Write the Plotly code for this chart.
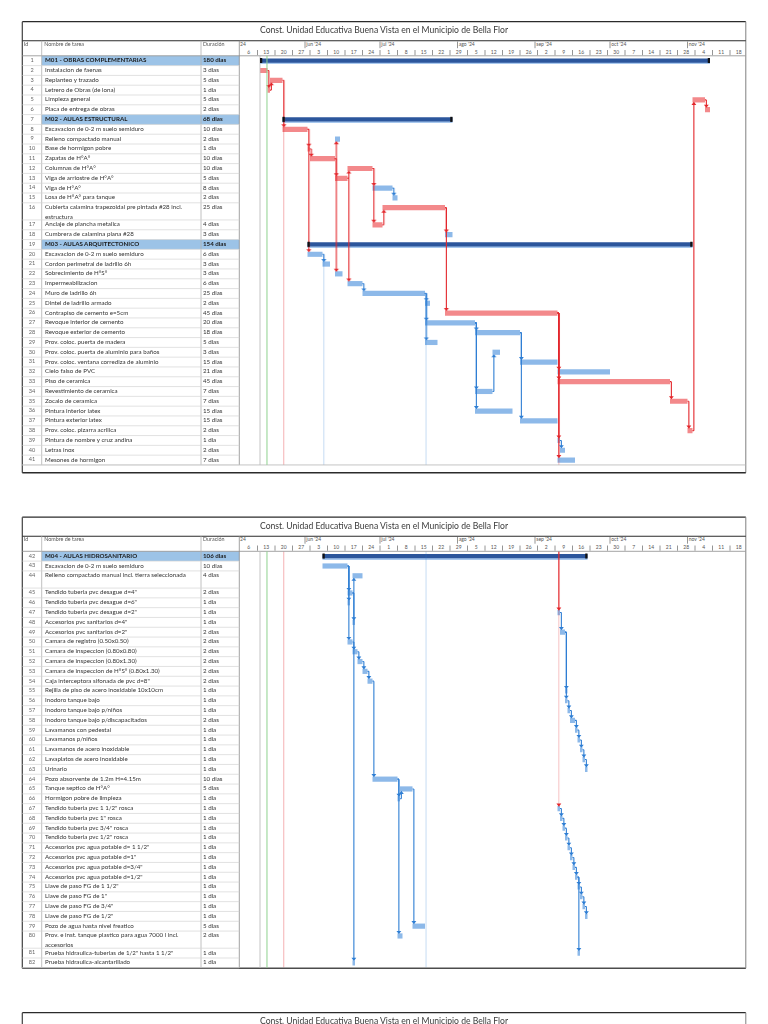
import plotly.graph_objects as go
from datetime import datetime, timedelta

# ---------------- DATA ----------------
TITULO = "Const. Unidad Educativa Buena Vista en el Municipio de Bella Flor"
ENCABEZADOS = ["Id", "Nombre de tarea", "Duración"]

ids = list(range(1, 83))

nombres = [
    "M01 - OBRAS COMPLEMENTARIAS", "Instalacion de faenas", "Replanteo y trazado",
    "Letrero de Obras (de lona)", "Limpieza general", "Placa de entrega de obras",
    "M02 - AULAS ESTRUCTURAL", "Excavacion de 0-2 m suelo semiduro", "Relleno compactado manual",
    "Base de hormigon pobre", "Zapatas de H°A°", "Columnas de H°A°", "Viga de arriostre de H°A°",
    "Viga de H°A°", "Losa de H°A° para tanque",
    "Cubierta calamina trapezoidal pre pintada #28 incl.<br>estructura",
    "Anclaje de plancha metalica", "Cumbrera de calamina plana #28",
    "M03 - AULAS ARQUITECTONICO", "Excavacion de 0-2 m suelo semiduro",
    "Cordon perimetral de ladrillo 6h", "Sobrecimiento de H°S°", "Impermeabilizacion",
    "Muro de ladrillo 6h", "Dintel de ladrillo armado", "Contrapiso de cemento e=5cm",
    "Revoque interior de cemento", "Revoque exterior de cemento", "Prov. coloc. puerta de madera",
    "Prov. coloc. puerta de aluminio para baños", "Prov. coloc. ventana corrediza de aluminio",
    "Cielo falso de PVC", "Piso de ceramica", "Revestimiento de ceramica", "Zocalo de ceramica",
    "Pintura interior latex", "Pintura exterior latex", "Prov. coloc. pizarra acrilica",
    "Pintura de nombre y cruz andina", "Letras inox", "Mesones de hormigon",
    "M04 - AULAS HIDROSANITARIO", "Excavacion de 0-2 m suelo semiduro",
    "Relleno compactado manual incl. tierra seleccionada",
    "Tendido tuberia pvc desague d=4\"", "Tendido tuberia pvc desague d=6\"",
    "Tendido tuberia pvc desague d=2\"", "Accesorios pvc sanitarios d=4\"",
    "Accesorios pvc sanitarios d=2\"", "Camara de registro (0.50x0.50)",
    "Camara de inspeccion (0.80x0.80)", "Camara de inspeccion (0.80x1.30)",
    "Camara de inspeccion de H°S° (0.80x1.30)", "Caja interceptora sifonada de pvc d=8\"",
    "Rejilla de piso de acero inoxidable 10x10cm", "Inodoro tanque bajo",
    "Inodoro tanque bajo p/niños", "Inodoro tanque bajo p/discapacitados",
    "Lavamanos con pedestal", "Lavamanos p/niños", "Lavamanos de acero inoxidable",
    "Lavaplatos de acero inoxidable", "Urinario", "Pozo absorvente de 1.2m H=4.15m",
    "Tanque septico de H°A°", "Hormigon pobre de limpieza", "Tendido tuberia pvc 1 1/2\" rosca",
    "Tendido tuberia pvc 1\" rosca", "Tendido tuberia pvc 3/4\" rosca",
    "Tendido tuberia pvc 1/2\" rosca", "Accesorios pvc agua potable d= 1 1/2\"",
    "Accesorios pvc agua potable d=1\"", "Accesorios pvc agua potable d=3/4\"",
    "Accesorios pvc agua potable d=1/2\"", "Llave de paso FG de 1 1/2\"",
    "Llave de paso FG de 1\"", "Llave de paso FG de 3/4\"", "Llave de paso FG de 1/2\"",
    "Pozo de agua hasta nivel freatico",
    "Prov. e inst. tanque plastico para agua 7000 l incl.<br>accesorios",
    "Prueba hidraulica-tuberias de 1/2\" hasta 1 1/2\"", "Prueba hidraulica-alcantarillado",
]

duracion_dias = [
    180, 3, 5, 1, 5, 2, 68, 10, 2, 1, 10, 10, 5, 8, 2, 25, 4, 3, 154, 6, 3, 3, 6, 25, 2,
    45, 20, 18, 5, 3, 15, 21, 45, 7, 7, 15, 15, 2, 1, 2, 7,
    106, 10, 4, 2, 1, 1, 1, 2, 2, 2, 2, 2, 2, 1, 1, 1, 2, 1, 1, 1, 1, 1, 10, 5, 1,
    1, 1, 1, 1, 1, 1, 1, 1, 1, 1, 1, 1, 5, 2, 1, 1,
]

inicio = [
    "2024-05-14", "2024-05-14", "2024-05-18", "2024-05-17", "2024-11-03", "2024-11-08",
    "2024-05-23", "2024-05-23", "2024-06-13", "2024-06-02", "2024-06-03", "2024-06-18",
    "2024-06-13", "2024-06-28", "2024-07-06", "2024-07-02", "2024-06-28", "2024-07-27",
    "2024-06-02", "2024-06-02", "2024-06-08", "2024-06-13", "2024-06-18", "2024-06-24",
    "2024-07-19", "2024-07-27", "2024-07-19", "2024-08-08", "2024-07-19", "2024-08-15",
    "2024-08-26", "2024-09-10", "2024-09-10", "2024-08-08", "2024-10-25", "2024-08-08",
    "2024-08-26", "2024-11-01", "2024-09-10", "2024-09-11", "2024-09-10",
    "2024-06-08", "2024-06-08", "2024-06-20", "2024-06-18", "2024-06-18", "2024-09-10",
    "2024-06-20", "2024-09-11", "2024-06-18", "2024-06-20", "2024-06-22", "2024-06-24",
    "2024-06-26", "2024-09-13", "2024-09-13", "2024-09-14", "2024-09-15", "2024-09-17",
    "2024-09-18", "2024-09-19", "2024-09-20", "2024-09-21", "2024-06-28", "2024-07-09",
    "2024-07-08", "2024-09-10", "2024-09-11", "2024-09-12", "2024-09-13", "2024-09-14",
    "2024-09-15", "2024-09-16", "2024-09-17", "2024-09-18", "2024-09-19", "2024-09-20",
    "2024-09-21", "2024-07-14", "2024-07-08", "2024-09-18", "2024-06-20",
]

criticas = [2, 3, 4, 5, 6, 8, 10, 11, 12, 13, 16, 17, 26, 33, 35, 38]
resumen_ids = [1, 7, 19, 42]
filas_dobles = [16, 44, 80]
paginas_ids = [list(range(1, 42)), list(range(42, 83))]

vinculos = [
    (2, 4), (4, 3), (3, 8), (8, 10), (8, 20), (10, 11), (11, 9), (11, 13), (11, 22),
    (13, 12), (13, 23), (12, 14), (12, 17), (17, 16), (14, 15), (16, 18), (16, 26),
    (20, 21), (23, 24), (24, 25), (24, 27), (24, 29), (27, 28), (27, 34), (27, 36),
    (34, 30), (28, 31), (28, 37), (26, 32), (26, 33), (26, 39), (26, 41), (39, 40),
    (33, 35), (35, 38), (38, 5), (5, 6),
    (43, 45), (43, 46), (43, 50), (45, 44), (45, 48), (45, 82), (50, 51), (51, 52),
    (52, 53), (53, 54), (54, 64), (64, 66), (64, 80), (66, 65), (65, 79),
    (26, 47), (26, 67), (47, 49), (49, 55), (49, 56), (56, 57), (57, 58), (58, 59),
    (59, 60), (60, 61), (61, 62), (62, 63), (67, 68), (68, 69), (69, 70), (70, 71),
    (71, 72), (72, 73), (73, 74), (74, 75), (75, 76), (76, 77), (77, 78), (74, 81),
]
# links that run on to tasks printed on later pages: (predecessor, pages crossed)
vinculos_fuera = [(3, 2), (20, 1), (24, 2)]

meses_texto = ["24", "jun '24", "jul '24", "ago '24", "sep '24", "oct '24", "nov '24"]
meses_fecha = [None, "2024-06-01", "2024-07-01", "2024-08-01", "2024-09-01", "2024-10-01", "2024-11-01"]
semanas_texto = ["6", "13", "20", "27", "3", "10", "17", "24", "1", "8", "15", "22", "29", "5",
                 "12", "19", "26", "2", "9", "16", "23", "30", "7", "14", "21", "28", "4", "11", "18"]
semana_inicio = "2024-05-06"
linea_inicio = "2024-05-14"
linea_estado = "2024-05-16 19:00"

# ---------------- LAYOUT CONSTANTS (screen pixels) ----------------
SW, SH = 768, 1024          # browser window
OX, OY = 8, 8               # default page body margin
FW, FH = SW - OX, SH - OY   # figure size
PITCH = 9.8
PAGE_T0 = 21.7
PAGE_H = 495.5
FRAME_H = 451.0
T_LINE, HDR_BOT = 19.0, 34.1
XL, XC1, XC2, XG, XR = 22.3, 41.7, 201.0, 239.3, 745.8
PX_REF, PX_DIA = 380.0, 2.5
D_REF = datetime(2024, 7, 1)

FONT = "Lato, 'Open Sans', sans-serif"
C_CRIT, C_NORM, C_SUM = "#F3898B", "#8DB9E9", "#2C569C"
C_LRED, C_LBLUE = "#E3262B", "#2E7ED4"


def date_at(px):
    return D_REF + timedelta(days=(px - PX_REF) / PX_DIA)


def d(s):
    return datetime.fromisoformat(s)


idx = {i: k for k, i in enumerate(ids)}


def t_ini(i):
    return d(inicio[idx[i]])


def t_fin(i):
    return t_ini(i) + timedelta(days=duracion_dias[idx[i]])


# row geometry
fila_top, fila_h, fila_y, pagina = {}, {}, {}, {}
pag_rows = []
for p, grupo in enumerate(paginas_ids):
    y = PAGE_T0 + p * PAGE_H + HDR_BOT
    y0 = y
    for i in grupo:
        h = PITCH * (1.75 if i in filas_dobles else 1.0)
        fila_top[i], fila_h[i], fila_y[i], pagina[i] = y, h, y + PITCH / 2, p
        y += h
    pag_rows.append((y0, y))

fig = go.Figure()
shapes = []


def line(x0, y0, x1, y1, color, width=1.0, xref="x2", opacity=1.0):
    shapes.append(dict(type="line", xref=xref, yref="y", x0=x0, y0=y0, x1=x1, y1=y1,
                       line=dict(color=color, width=width), opacity=opacity, layer="above"))


def rect(x0, y0, x1, y1, fill, xref="x2", lw=0, lc=None, layer="below"):
    shapes.append(dict(type="rect", xref=xref, yref="y", x0=x0, y0=y0, x1=x1, y1=y1,
                       fillcolor=fill, line=dict(width=lw, color=lc or fill), layer=layer))


txt_x, txt_y, txt_t, txt_c, txt_s, txt_p = [], [], [], [], [], []


def text(x, y, t, size=6.2, color="#333333", pos="middle right"):
    txt_x.append(x); txt_y.append(y); txt_t.append(t); txt_c.append(color)
    txt_s.append(size); txt_p.append(pos)


gx0, gx1 = date_at(XG), date_at(XR)

# ---------------- PAGES (frames, headers) ----------------
for p in range(3):
    T = PAGE_T0 + p * PAGE_H
    B = T + FRAME_H
    line(XL, T, XR, T, "#2B2B2B", 1.3)
    line(XL, T, XL, min(B, SH + 5), "#404040", 1.2)
    line(XR, T, XR, min(B, SH + 5), "#808080", 1.0)
    if B < SH:
        line(XL, B, XR, B, "#2B2B2B", 1.6)
    line(XL, T + T_LINE, XR, T + T_LINE, "#2B2B2B", 1.1)
    text((XL + XR) / 2, T + 9.6, TITULO, 8.6, "#3A3A3A", "middle center")
    if p >= len(paginas_ids):
        continue
    r0, r1 = pag_rows[p]
    line(XL, T + HDR_BOT, XR, T + HDR_BOT, "#9A9A9A", 0.9)
    text(XL + 1.5, T + 22.8, ENCABEZADOS[0], 5.4, "#555555")
    text(XC1 + 2.5, T + 22.8, ENCABEZADOS[1], 5.4, "#555555")
    text(XC2 + 2.0, T + 22.8, ENCABEZADOS[2], 5.4, "#555555")
    for xc, col in [(XC1, "#B0B0B0"), (XC2, "#B0B0B0"), (XG, "#8A8A8A")]:
        line(xc, T + T_LINE, xc, r1, col, 0.8)
    # timescale
    mx, mt_ = [], []
    for mt, mf in zip(meses_texto, meses_fecha):
        if mf is None:
            mx.append(gx0 + timedelta(days=0.3)); mt_.append(mt)
            continue
        xd = d(mf)
        line(xd, T + T_LINE + 0.8, xd, T + 26.5, "#7A7A7A", 0.8, xref="x")
        mx.append(xd + timedelta(days=0.5)); mt_.append(mt)
    fig.add_trace(go.Scatter(x=mx, y=[T + 23.0] * len(mx), mode="text", text=mt_,
                             textposition="middle right",
                             textfont=dict(size=5.0, color="#555555", family=FONT),
                             hoverinfo="skip", showlegend=False, cliponaxis=False))
    ws = d(semana_inicio)
    wx, wt = [], []
    for k, st in enumerate(semanas_texto):
        x0 = ws + timedelta(days=7 * k)
        if k > 0:
            line(x0, T + 28.3, x0, T + HDR_BOT - 0.6, "#7A7A7A", 0.8, xref="x")
        wx.append(x0 + timedelta(days=3.5)); wt.append(st)
    fig.add_trace(go.Scatter(x=wx, y=[T + 30.7] * len(wx), mode="text", text=wt,
                             textposition="middle center",
                             textfont=dict(size=5.0, color="#555555", family=FONT),
                             hoverinfo="skip", showlegend=False, cliponaxis=False))
    line(XL, r1, XR, r1, "#B5B5B5", 0.8)
    line(d(linea_inicio), r0, d(linea_inicio), r1, "#BDBDBD", 0.9, xref="x")
    line(d(linea_estado), r0, d(linea_estado), r1, "#8FD18F", 1.0, xref="x")

# ---------------- TABLE ----------------
for i in ids:
    k = idx[i]
    top, h, yc = fila_top[i], fila_h[i], fila_y[i]
    if i in resumen_ids:
        rect(XC1, top, XG, top + h, "#9CC3E7")
    line(XL, top + h, XG, top + h, "#D4D4D4", 0.7)
    text((XL + XC1) / 2, yc, str(i), 5.6, "#666666", "middle center")
    partes = nombres[k].split("<br>")
    bold = i in resumen_ids
    for j, parte in enumerate(partes):
        t = "<b>%s</b>" % parte if bold else parte
        text(XC1 + 3.3, yc + j * PITCH, t, 6.2, "#1A1A1A" if bold else "#333333")
    dt = "%d %s" % (duracion_dias[k], "dia" if duracion_dias[k] == 1 else "dias")
    text(XC2 + 2.0, yc, "<b>%s</b>" % dt if bold else dt, 6.2, "#1A1A1A" if bold else "#333333")

# ---------------- GANTT BARS ----------------
MS = 86400000.0


def bar_trace(sel, color, width, dy=0.0):
    fig.add_trace(go.Bar(
        orientation="h", base=[inicio[idx[i]] for i in sel],
        x=[duracion_dias[idx[i]] * MS for i in sel], y=[fila_y[i] + dy for i in sel],
        width=width, marker=dict(color=color, line=dict(width=0)),
        xaxis="x", yaxis="y", hoverinfo="skip", showlegend=False))


tareas = [i for i in ids if i not in resumen_ids]
bar_trace([i for i in tareas if i in criticas], C_CRIT, 5.2)
bar_trace([i for i in tareas if i not in criticas], C_NORM, 5.2)
bar_trace(resumen_ids, "#A8C8EE", 1.2, 2.6)
bar_trace(resumen_ids, C_SUM, 4.2, -0.1)
for i in resumen_ids:
    for xs, xe in [(t_ini(i), t_ini(i) + timedelta(days=0.9)),
                   (t_fin(i) - timedelta(days=0.9), t_fin(i))]:
        rect(xs, fila_y[i] - 2.7, xe, fila_y[i] + 2.4, "#111111", xref="x", layer="above")

# ---------------- LINKS ----------------
segs = {C_LRED: ([], []), C_LBLUE: ([], [])}
pale = {C_LRED: ([], []), C_LBLUE: ([], [])}
arrows = {}
OFF = timedelta(days=0.55)


def seg(store, x0, y0, x1, y1):
    store[0].extend([x0, x1, None]); store[1].extend([y0, y1, None])


def arrow(color, x, y, up):
    arrows.setdefault((color, up), ([], []))
    arrows[(color, up)][0].append(x); arrows[(color, up)][1].append(y)


for p_, s_ in vinculos:
    col = C_LRED if p_ in criticas else C_LBLUE
    xl = t_fin(p_) + OFF
    if pagina[p_] == pagina[s_]:
        seg(segs[col], t_fin(p_), fila_y[p_], xl, fila_y[p_])
        if fila_y[s_] > fila_y[p_]:
            ye = fila_y[s_] - 2.8
            seg(segs[col], xl, fila_y[p_], xl, ye)
            arrow(col, xl, ye - 1.2, False)
        else:
            ye = fila_y[s_] + 2.8
            seg(segs[col], xl, fila_y[p_], xl, ye)
            arrow(col, xl, ye + 1.2, True)
    else:
        seg(segs[col], t_fin(p_), fila_y[p_], xl, fila_y[p_])
        seg(pale[col], xl, fila_y[p_], xl, pag_rows[pagina[p_]][1])
        r0 = pag_rows[pagina[s_]][0]
        ye = fila_y[s_] - 2.8
        if s_ == min(s for q, s in vinculos if q == p_ and pagina[s] == pagina[s_]):
            seg(segs[col], xl, r0, xl, ye)
        else:
            seg(pale[col], xl, r0, xl, ye)
        arrow(col, xl, ye - 1.2, False)

for p_, n in vinculos_fuera:
    col = C_LRED if p_ in criticas else C_LBLUE
    xl = t_fin(p_) + OFF
    seg(pale[col], xl, fila_y[p_], xl, pag_rows[pagina[p_]][1])
    for q in range(pagina[p_] + 1, min(pagina[p_] + n, len(pag_rows))):
        seg(pale[col], xl, pag_rows[q][0], xl, pag_rows[q][1])

for col, (xs, ys) in pale.items():
    fig.add_trace(go.Scatter(x=xs, y=ys, mode="lines", line=dict(color=col, width=1.0),
                             opacity=0.28, hoverinfo="skip", showlegend=False, xaxis="x", yaxis="y"))
for col, (xs, ys) in segs.items():
    fig.add_trace(go.Scatter(x=xs, y=ys, mode="lines", line=dict(color=col, width=1.1),
                             hoverinfo="skip", showlegend=False, xaxis="x", yaxis="y"))
for (col, up), (xs, ys) in arrows.items():
    fig.add_trace(go.Scatter(x=xs, y=ys, mode="markers",
                             marker=dict(symbol="triangle-up" if up else "triangle-down",
                                         size=4.2, color=col, line=dict(width=0)),
                             hoverinfo="skip", showlegend=False, xaxis="x", yaxis="y"))

# ---------------- TEXT ----------------
fig.add_trace(go.Scatter(x=txt_x, y=txt_y, text=txt_t, mode="text", textposition=txt_p,
                         textfont=dict(size=txt_s, color=txt_c, family=FONT),
                         hoverinfo="skip", showlegend=False, xaxis="x2", yaxis="y",
                         cliponaxis=False))

fig.update_layout(
    width=FW, height=FH, margin=dict(l=0, r=0, t=0, b=0),
    paper_bgcolor="white", plot_bgcolor="rgba(0,0,0,0)",
    barmode="overlay", showlegend=False, shapes=shapes,
    xaxis=dict(type="date", domain=[(XG - OX) / FW, (XR - OX) / FW], range=[gx0, gx1],
               visible=False, showgrid=False, zeroline=False, fixedrange=True),
    xaxis2=dict(type="linear", domain=[0, 1], range=[OX, OX + FW], visible=False, anchor="y",
                showgrid=False, zeroline=False, fixedrange=True),
    yaxis=dict(type="linear", domain=[0, 1], range=[OY + FH, OY], visible=False, showgrid=False,
               zeroline=False, fixedrange=True),
)

fig.write_html("out.html")
